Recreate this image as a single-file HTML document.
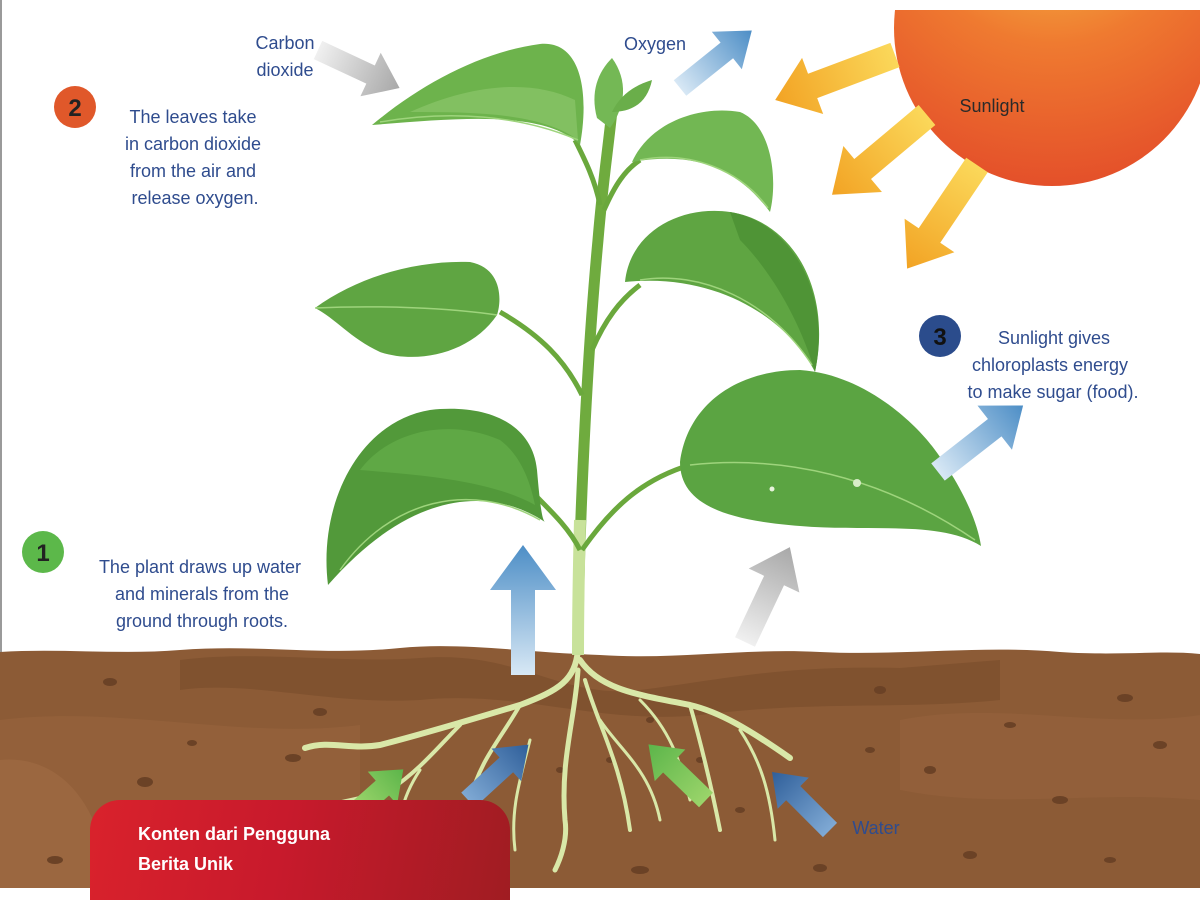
<!DOCTYPE html>
<html><head><meta charset="utf-8"><style>
html,body{margin:0;padding:0;background:#fff;width:1200px;height:900px;overflow:hidden}
svg{display:block}
.t{font-family:"Liberation Sans",sans-serif;fill:#2f4c8e;font-size:18px;text-anchor:middle}
.banner{position:absolute;left:90px;top:800px;width:420px;height:100px;border-radius:30px 30px 0 0;background:linear-gradient(100deg,#d9222c 0%,#c81a2c 45%,#a01c22 100%);overflow:hidden}
.banner div{position:absolute;left:48px;color:#fff;font-family:"Liberation Sans",sans-serif;font-weight:bold;font-size:18px}
</style></head><body>
<svg width="1200" height="900" viewBox="0 0 1200 900">
<defs>
<linearGradient id="gO" x1="0" x2="1"><stop offset="0" stop-color="#fbd85a"/><stop offset="1" stop-color="#f2a324"/></linearGradient>
<linearGradient id="gB" x1="0" x2="1"><stop offset="0" stop-color="#d8e8f5"/><stop offset="1" stop-color="#4d8ec6"/></linearGradient>
<linearGradient id="gBd" x1="0" x2="1"><stop offset="0" stop-color="#7fa9d4"/><stop offset="1" stop-color="#2f5f9a"/></linearGradient>
<linearGradient id="gG" x1="0" x2="1"><stop offset="0" stop-color="#f0f0f0"/><stop offset="1" stop-color="#a8a8a8"/></linearGradient>
<linearGradient id="gGr" x1="0" x2="1"><stop offset="0" stop-color="#9ad46a"/><stop offset="1" stop-color="#5cb54a"/></linearGradient>
<radialGradient id="sun" cx="0.5" cy="0.1" r="0.9"><stop offset="0" stop-color="#f7c847"/><stop offset="0.5" stop-color="#ef7a30"/><stop offset="1" stop-color="#e4502a"/></radialGradient>
<clipPath id="top"><rect x="0" y="10" width="1200" height="900"/></clipPath>
</defs>
<rect x="0" y="0" width="2" height="660" fill="#9a9a9a"/>
<!-- sun -->
<circle cx="1052" cy="28" r="158" fill="url(#sun)" clip-path="url(#top)"/>
<text x="992" y="112" font-family="Liberation Sans,sans-serif" font-size="18" fill="#2a2a2a" text-anchor="middle">Sunlight</text>
<!-- soil -->
<path d="M0,652 C60,648 120,655 180,650 C260,644 320,656 400,648 C460,642 520,652 600,655 C680,660 740,648 820,652 C900,656 980,645 1060,652 C1120,656 1160,650 1200,654 L1200,888 L0,888 Z" fill="#8c5b36"/>
<path d="M180,660 C260,650 340,664 420,658 C520,650 560,700 640,690 C720,680 780,665 900,668 L1000,660 L1000,700 C900,710 820,700 700,715 C600,725 520,690 420,700 C330,705 250,680 180,690 Z" fill="#7a4e2c" opacity=".7"/>
<path d="M0,720 C120,705 240,740 360,725 L360,888 L0,888 Z" fill="#97643d" opacity=".6"/>
<path d="M900,720 C1000,700 1100,730 1200,715 L1200,800 C1100,790 1000,810 900,790 Z" fill="#97643d" opacity=".5"/>
<path d="M0,760 C50,755 100,790 110,888 L0,888 Z" fill="#a06c44" opacity=".6"/>
<g fill="#6b4226">
<ellipse cx="110" cy="682" rx="7" ry="4"/><ellipse cx="320" cy="712" rx="7" ry="4"/><ellipse cx="192" cy="743" rx="5" ry="3"/><ellipse cx="293" cy="758" rx="8" ry="4"/><ellipse cx="145" cy="782" rx="8" ry="5"/><ellipse cx="55" cy="860" rx="8" ry="4"/><ellipse cx="880" cy="690" rx="6" ry="4"/><ellipse cx="1125" cy="698" rx="8" ry="4"/><ellipse cx="1010" cy="725" rx="6" ry="3"/><ellipse cx="1160" cy="745" rx="7" ry="4"/><ellipse cx="930" cy="770" rx="6" ry="4"/><ellipse cx="1060" cy="800" rx="8" ry="4"/><ellipse cx="970" cy="855" rx="7" ry="4"/><ellipse cx="1110" cy="860" rx="6" ry="3"/><ellipse cx="870" cy="750" rx="5" ry="3"/><ellipse cx="640" cy="870" rx="9" ry="4"/><ellipse cx="820" cy="868" rx="7" ry="4"/><ellipse cx="610" cy="760" rx="4" ry="3"/><ellipse cx="560" cy="770" rx="4" ry="3"/><ellipse cx="650" cy="720" rx="4" ry="3"/><ellipse cx="700" cy="760" rx="4" ry="3"/><ellipse cx="740" cy="810" rx="5" ry="3"/>
</g>
<!-- roots -->
<g fill="none" stroke="#d9e8a8" stroke-linecap="round">
<path d="M578,650 C575,680 560,690 520,705 C470,720 420,735 380,745 C350,750 330,740 305,748" stroke-width="6"/>
<path d="M580,660 C600,690 640,695 690,705 C720,712 750,730 790,758" stroke-width="6"/>
<path d="M578,670 C575,720 560,760 565,820 C568,840 560,860 555,870" stroke-width="5"/>
<path d="M585,680 C600,730 620,760 630,830" stroke-width="4"/>
<path d="M520,705 C500,740 480,760 470,800 C465,820 470,840 470,860" stroke-width="4"/>
<path d="M460,725 C440,745 420,770 390,790 C360,800 340,800 315,810" stroke-width="4"/>
<path d="M690,705 C700,740 710,780 720,830" stroke-width="4"/>
<path d="M640,700 C670,730 680,760 690,800" stroke-width="3"/>
<path d="M530,740 C520,780 510,810 515,850" stroke-width="3"/>
<path d="M600,720 C620,750 650,770 660,820" stroke-width="3"/>
<path d="M740,730 C760,760 770,790 775,840" stroke-width="3"/>
<path d="M420,770 C400,800 395,830 400,860" stroke-width="3"/>
</g>
<!-- stem -->
<path d="M578,655 C578,560 585,380 598,240 C603,180 608,150 612,110" fill="none" stroke="#6fab3e" stroke-width="11"/>
<path d="M578,655 C578,600 579,560 580,520" fill="none" stroke="#c8e29a" stroke-width="12"/>
<!-- petioles -->
<g fill="none" stroke="#6aa83c" stroke-width="5">
<path d="M500,312 C540,335 565,360 582,395"/>
<path d="M535,495 C555,515 570,530 580,550"/>
<path d="M582,550 C610,510 640,480 690,465"/>
<path d="M592,350 C605,320 620,300 640,285"/>
<path d="M604,210 C615,185 625,170 640,160"/>
<path d="M600,205 C595,180 585,160 575,140"/>
</g>
<!-- leaves -->
<g stroke="none">
<path d="M372,125 C420,85 480,52 540,44 C580,40 590,90 580,145 C545,110 460,118 372,125 Z" fill="#6db34c"/>
<path d="M410,112 C470,85 530,78 575,100 L578,140 C540,112 470,112 410,112 Z" fill="#82c061"/>
<path d="M597,118 C590,92 598,72 612,58 C628,80 626,106 610,128 Z" fill="#74b855"/>
<path d="M612,112 C620,95 635,85 652,80 C648,100 635,112 612,112 Z" fill="#6aae4a"/>
<path d="M632,162 C650,122 700,105 740,112 C772,125 778,180 770,212 C740,172 700,150 632,162 Z" fill="#72b753"/>
<path d="M625,282 C630,232 680,205 730,212 C795,222 832,292 815,372 C790,322 720,272 625,282 Z" fill="#5fa542"/>
<path d="M730,212 C790,222 832,292 815,372 C800,320 770,270 740,240 Z" fill="#4f9436"/>
<path d="M315,308 C360,275 420,260 470,262 C502,268 502,300 497,315 C472,352 420,365 380,352 C350,338 335,318 315,308 Z" fill="#5fa542"/>
<path d="M328,585 C318,505 358,422 430,410 C482,404 532,420 537,470 C540,505 542,520 545,522 C500,492 420,480 328,585 Z" fill="#52993a"/>
<path d="M360,470 C390,430 450,418 500,440 C520,455 530,480 535,505 C490,480 420,475 360,470 Z" fill="#5fa845"/>
<path d="M680,462 C688,402 740,370 800,370 C862,374 912,420 932,446 C952,472 976,512 981,546 C940,520 870,532 800,526 C720,520 680,502 680,462 Z" fill="#5ba442"/>
</g>
<g fill="none" stroke="#9ed47c" stroke-width="1.5">
<path d="M690,465 C780,455 880,475 975,540"/>
<path d="M315,308 C380,305 450,308 497,315"/>
<path d="M380,122 C450,110 520,115 578,140"/>
<path d="M640,280 C700,270 770,300 812,365"/>
<path d="M640,160 C690,150 740,170 768,208"/>
<path d="M340,570 C390,500 470,480 540,520"/>
</g>
<circle cx="772" cy="489" r="2.5" fill="#e8f3dc"/><circle cx="857" cy="483" r="4" fill="#d8ecc8"/>
<!-- arrows -->
<g>
<g transform="translate(895,55) rotate(159.4)"><polygon points="0,-13 88,-13 88,-30 128,0 88,30 88,13 0,13" fill="url(#gO)"/></g>
<g transform="translate(927,115) rotate(140)"><polygon points="0,-13 84,-13 84,-30 124,0 84,30 84,13 0,13" fill="url(#gO)"/></g>
<g transform="translate(977,165) rotate(124)"><polygon points="0,-13 85,-13 85,-30 125,0 85,30 85,13 0,13" fill="url(#gO)"/></g>
<g transform="translate(680,88) rotate(-38.7)"><polygon points="0,-10 60,-10 60,-24 92,0 60,24 60,10 0,10" fill="url(#gB)"/></g>
<g transform="translate(318,50) rotate(25)"><polygon points="0,-10 58,-10 58,-24 90,0 58,24 58,10 0,10" fill="url(#gG)"/></g>
<g transform="translate(523,675) rotate(-90)"><polygon points="0,-12 85,-12 85,-33 130,0 85,33 85,12 0,12" fill="url(#gB)"/></g>
<g transform="translate(745,642) rotate(-64.7)"><polygon points="0,-11 68,-11 68,-28 105,0 68,28 68,11 0,11" fill="url(#gG)"/></g>
<g transform="translate(938,472) rotate(-38)"><polygon points="0,-11 72,-11 72,-28 108,0 72,28 72,11 0,11" fill="url(#gB)"/></g>
<g transform="translate(360,808) rotate(-41.7)"><polygon points="0,-10 30,-10 30,-22 58,0 30,22 30,10 0,10" fill="url(#gGr)"/></g>
<g transform="translate(468,800) rotate(-42.5)"><polygon points="0,-10 52,-10 52,-22 82,0 52,22 52,10 0,10" fill="url(#gBd)"/></g>
<g transform="translate(706,800) rotate(-136)"><polygon points="0,-10 50,-10 50,-22 80,0 50,22 50,10 0,10" fill="url(#gGr)"/></g>
<g transform="translate(830,830) rotate(-135)"><polygon points="0,-10 52,-10 52,-22 82,0 52,22 52,10 0,10" fill="url(#gBd)"/></g>
</g>
<!-- badges -->
<circle cx="75" cy="107" r="21" fill="#e0582a"/><text x="75" y="116" font-family="Liberation Sans,sans-serif" font-weight="bold" font-size="24" fill="#222" text-anchor="middle">2</text>
<circle cx="940" cy="336" r="21" fill="#2b4c8c"/><text x="940" y="345" font-family="Liberation Sans,sans-serif" font-weight="bold" font-size="24" fill="#111" text-anchor="middle">3</text>
<circle cx="43" cy="552" r="21" fill="#5cb84a"/><text x="43" y="561" font-family="Liberation Sans,sans-serif" font-weight="bold" font-size="24" fill="#222" text-anchor="middle">1</text>
<!-- texts -->
<text class="t" x="285" y="49">Carbon</text><text class="t" x="285" y="76">dioxide</text>
<text class="t" x="655" y="50">Oxygen</text>
<text class="t" x="193" y="123">The leaves take</text><text class="t" x="193" y="150">in carbon dioxide</text><text class="t" x="193" y="177">from the air and</text><text class="t" x="195" y="204">release oxygen.</text>
<text class="t" x="1054" y="344">Sunlight gives</text><text class="t" x="1050" y="371">chloroplasts energy</text><text class="t" x="1053" y="398">to make sugar (food).</text>
<text class="t" x="200" y="573">The plant draws up water</text><text class="t" x="202" y="600">and minerals from the</text><text class="t" x="202" y="627">ground through roots.</text>
<text class="t" x="876" y="834">Water</text>
</svg>
<div class="banner"><div style="top:24px">Konten dari Pengguna</div><div style="top:54px">Berita Unik</div></div>
</body></html>
